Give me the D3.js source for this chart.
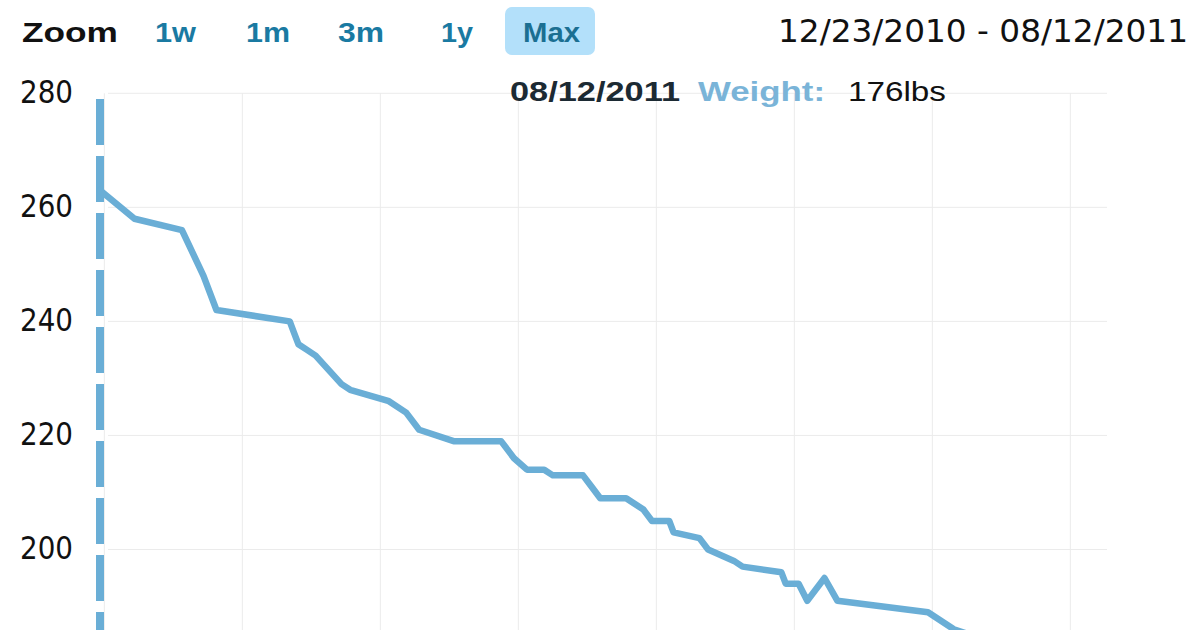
<!DOCTYPE html>
<html>
<head>
<meta charset="utf-8">
<script src="https://cdn.jsdelivr.net/npm/d3@7"></script>
<style>
  body { margin: 0; background: #fff; overflow: hidden; }
</style>
</head>
<body>
<script>
// weigh-in dates and weights (lbs)
var dates = ["2010-12-23","2010-12-31","2011-01-11","2011-01-16","2011-01-19","2011-02-05","2011-02-06",
  "2011-02-07","2011-02-09","2011-02-11","2011-02-17","2011-02-19","2011-02-28","2011-03-04","2011-03-07",
  "2011-03-15","2011-03-26","2011-03-29","2011-04-01","2011-04-05","2011-04-07","2011-04-14","2011-04-16",
  "2011-04-18","2011-04-24","2011-04-28","2011-04-30","2011-05-04","2011-05-05","2011-05-11","2011-05-13",
  "2011-05-19","2011-05-21","2011-05-30","2011-05-31","2011-06-03","2011-06-05","2011-06-09","2011-06-12",
  "2011-07-03","2011-07-09","2011-07-17","2011-07-27","2011-08-04","2011-08-12"];
var weights = [263,258,256,248,242,240,238,
  236,235,234,229,228,226,224,221,
  219,219,216,214,214,213,213,211,
  209,209,207,205,205,203,202,200,
  198,197,196,194,194,191,195,191,
  189,186,184,181,178,176];
var yTicks = [280,260,240,220,200];
var gridDates = ["2010-12-24","2011-01-25","2011-02-26","2011-03-30","2011-05-01","2011-06-02","2011-07-04","2011-08-05"];
var zoomLabels = ["1w","1m","3m","1y","Max"];

var parse = d3.timeParse("%Y-%m-%d");
var data = dates.map(function(d, i) { return { date: parse(d), w: weights[i] }; });

var W = 1200, H = 630;
var blue = "#6aaed6";

var svg = d3.select("body").append("svg").attr("width", W).attr("height", H);
svg.append("rect").attr("width", W).attr("height", H).style("fill", "#fff");

var x = d3.scaleTime()
  .domain([parse("2010-12-23"), parse("2011-08-12")])
  .range([100, 1100.5]);
var y = d3.scaleLinear().domain([200, 280]).range([549.5, 93.3]);

// grid
var grid = svg.append("g");
grid.selectAll("line.h").data(yTicks).enter().append("line")
  .attr("x1", 108).attr("x2", 1107)
  .attr("y1", function(d) { return y(d); }).attr("y2", function(d) { return y(d); })
  .attr("stroke", "#ebebeb").attr("stroke-width", 1);
grid.selectAll("line.v").data(gridDates.map(parse)).enter().append("line")
  .attr("x1", function(d) { return x(d); }).attr("x2", function(d) { return x(d); })
  .attr("y1", y(280)).attr("y2", H)
  .attr("stroke", "#ebebeb").attr("stroke-width", 1);

// y labels
svg.selectAll("text.ylab").data(yTicks).enter().append("text")
  .attr("x", 20).attr("y", function(d) { return y(d) + 9.5; })
  .attr("textLength", 53).attr("lengthAdjust", "spacingAndGlyphs")
  .style("font-family", "DejaVu Sans").style("font-size", "32px").style("fill", "#111")
  .text(function(d) { return d; });

// dashed cursor line
svg.append("line")
  .attr("x1", 100).attr("x2", 100).attr("y1", 99).attr("y2", H)
  .attr("stroke", blue).attr("stroke-width", 8).attr("stroke-dasharray", "46,11");

// weight line
var line = d3.line().x(function(d) { return x(d.date); }).y(function(d) { return y(d.w); });
svg.append("path").datum(data)
  .attr("d", line)
  .attr("fill", "none").attr("stroke", blue).attr("stroke-width", 6.5)
  .attr("stroke-linejoin", "round").attr("stroke-linecap", "round");

// zoom buttons
svg.append("text").attr("x", 22).attr("y", 42)
  .attr("textLength", 96).attr("lengthAdjust", "spacingAndGlyphs")
  .style("font-family", "Liberation Sans").style("font-weight", "bold").style("font-size", "27px")
  .style("fill", "#111").text("Zoom");

svg.append("rect").attr("x", 505).attr("y", 7).attr("width", 90).attr("height", 48)
  .attr("rx", 7).style("fill", "#b3e0fa");

var btnX = [155, 246, 338, 441, 523];
var btnW = [41, 44, 46, 32, 57];
svg.selectAll("text.btn").data(zoomLabels).enter().append("text")
  .attr("x", function(d, i) { return btnX[i]; }).attr("y", 42)
  .attr("textLength", function(d, i) { return btnW[i]; }).attr("lengthAdjust", "spacingAndGlyphs")
  .style("font-family", "Liberation Sans").style("font-weight", "bold").style("font-size", "27px")
  .style("fill", function(d, i) { return i == 4 ? "#1b6f92" : "#1a7aa2"; })
  .text(function(d) { return d; });

// date range
svg.append("text").attr("x", 778).attr("y", 42)
  .attr("textLength", 410).attr("lengthAdjust", "spacingAndGlyphs")
  .style("font-family", "DejaVu Sans").style("font-size", "32px").style("fill", "#111")
  .text("12/23/2010 - 08/12/2011");

// hover readout
var last = data[data.length - 1];
var fmt = d3.timeFormat("%m/%d/%Y");
svg.append("text").attr("x", 510).attr("y", 101)
  .attr("textLength", 170).attr("lengthAdjust", "spacingAndGlyphs")
  .style("font-family", "Liberation Sans").style("font-weight", "bold").style("font-size", "27px")
  .style("fill", "#1c2a33").text(fmt(last.date));
svg.append("text").attr("x", 698).attr("y", 101)
  .attr("textLength", 127).attr("lengthAdjust", "spacingAndGlyphs")
  .style("font-family", "Liberation Sans").style("font-weight", "bold").style("font-size", "27px")
  .style("fill", "#7ab4d8").text("Weight:");
svg.append("text").attr("x", 848).attr("y", 101)
  .attr("textLength", 98).attr("lengthAdjust", "spacingAndGlyphs")
  .style("font-family", "Liberation Sans").style("font-size", "27px")
  .style("fill", "#111").text(last.w + "lbs");
</script>
</body>
</html>
